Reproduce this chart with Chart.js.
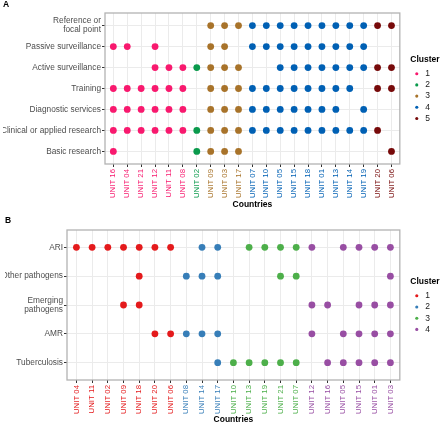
<!DOCTYPE html>
<html><head><meta charset="utf-8">
<script src="https://cdn.jsdelivr.net/npm/chart.js@4.4.1/dist/chart.umd.min.js"></script>
<style>
html,body{margin:0;padding:0;background:#fff;}
#wrap{position:relative;width:440px;height:424px;overflow:hidden;}
canvas{position:absolute;left:0;}
#cA{top:0}
#cB{top:212px}
</style></head><body>
<div id="wrap"><canvas id="cA" width="440" height="212"></canvas><canvas id="cB" width="440" height="212"></canvas></div>
<script>
// ---------- Panel A data ----------
const unitsA = ['UNIT 16','UNIT 04','UNIT 21','UNIT 12','UNIT 11','UNIT 08','UNIT 02','UNIT 09','UNIT 03','UNIT 17',
  'UNIT 07','UNIT 10','UNIT 05','UNIT 15','UNIT 18','UNIT 01','UNIT 13','UNIT 14','UNIT 19','UNIT 20','UNIT 06'];
const clustersA = [1,1,1,1,1,1,2,3,3,3,4,4,4,4,4,4,4,4,4,5,5];
const colorsA = ['#F8196E','#0A9A4C','#A8732A','#0060B4','#770A0A'];
const activitiesA = [['Reference or','focal point'],'Passive surveillance','Active surveillance','Training',
  'Diagnostic services','Clinical or applied research','Basic research'];
const referenceA  = [0,0,0,0,0,0,0, 1,1,1, 1,1,1,1,1,1,1,1,1, 1,1];
const passiveA    = [1,1,0,1,0,0,0, 1,1,0, 1,1,1,1,1,1,1,1,1, 0,0];
const activeA     = [0,0,0,1,1,1,1, 1,1,1, 0,0,1,1,1,1,1,1,1, 1,1];
const trainingA   = [1,1,1,1,1,1,0, 1,1,1, 1,1,1,1,1,1,1,1,0, 1,1];
const diagnosticA = [1,1,1,1,1,1,0, 1,1,1, 1,1,1,1,1,1,1,0,1, 0,0];
const clinicalA   = [1,1,1,1,1,1,1, 1,1,1, 1,1,1,1,1,1,1,1,1, 1,0];
const basicA      = [1,0,0,0,0,0,1, 1,1,1, 0,0,0,0,0,0,0,0,0, 0,1];
const rowsA = [referenceA, passiveA, activeA, trainingA, diagnosticA, clinicalA, basicA];

// ---------- Panel B data ----------
const unitsB = ['UNIT 04','UNIT 11','UNIT 02','UNIT 09','UNIT 18','UNIT 20','UNIT 06','UNIT 08','UNIT 14','UNIT 17',
  'UNIT 10','UNIT 13','UNIT 19','UNIT 21','UNIT 07','UNIT 12','UNIT 16','UNIT 05','UNIT 15','UNIT 01','UNIT 03'];
const clustersB = [1,1,1,1,1,1,1,2,2,2,3,3,3,3,3,4,4,4,4,4,4];
const colorsB = ['#E41A1C','#377EB8','#4DAF4A','#984EA3'];
const pathogensB = ['ARI','Other pathogens',['Emerging','pathogens'],'AMR','Tuberculosis'];
const ariB      = [1,1,1,1,1,1,1, 0,1,1, 0,1,1,1,1, 1,0,1,1,1,1];
const otherB    = [0,0,0,0,1,0,0, 1,1,1, 0,0,0,1,1, 0,0,0,0,0,1];
const emergingB = [0,0,0,1,1,0,0, 0,0,0, 0,0,0,0,0, 1,1,0,1,1,1];
const amrB      = [0,0,0,0,0,1,1, 1,1,1, 0,0,0,0,0, 1,0,1,1,1,1];
const tbB       = [0,0,0,0,0,0,0, 0,0,1, 1,1,1,1,1, 0,1,1,1,1,1];
const rowsB = [ariB, otherB, emergingB, amrB, tbB];

Chart.defaults.font.family = '"Liberation Sans", Arial, Helvetica, sans-serif';

function buildDatasets(rows, clusters, colors) {
  return colors.map((col, k) => {
    const pts = [];
    rows.forEach((row, r) => row.forEach((v, c) => {
      if (v && clusters[c] === k + 1) pts.push({x: c, y: r});
    }));
    return {label: String(k + 1), data: pts, backgroundColor: col, borderColor: col,
      borderWidth: 0, pointRadius: 3.4, pointHoverRadius: 3.4, pointStyle: 'circle'};
  });
}

const framePlugin = {
  id: 'frame',
  afterDraw(chart) {
    const a = chart.chartArea, ctx = chart.ctx;
    ctx.save();
    ctx.strokeStyle = '#B3B3B3';
    ctx.lineWidth = 1.3;
    ctx.strokeRect(a.left, a.top, a.right - a.left, a.bottom - a.top);
    ctx.restore();
  }
};

function makeChart(id, cfg) {
  const nX = cfg.units.length, nY = cfg.rowLabels.length;
  return new Chart(document.getElementById(id), {
    type: 'scatter',
    data: {datasets: buildDatasets(cfg.rows, cfg.clusters, cfg.colors)},
    plugins: [framePlugin],
    options: {
      responsive: false,
      animation: false,
      layout: {padding: {left: cfg.padLeft, right: 0, top: 0, bottom: 0}},
      plugins: {
        tooltip: {enabled: false},
        title: {display: true, text: cfg.letter, align: 'start', color: '#000',
          font: {size: 8.5, weight: 'bold'}, padding: cfg.letterPad},
        legend: {
          display: true, position: 'right', align: 'center', fullSize: false,
          title: {display: true, text: 'Cluster', color: '#000', position: 'center',
            font: {size: 8.5, weight: 'bold'}, padding: {top: 4, bottom: 1}},
          labels: {usePointStyle: true, boxWidth: 8.5, boxHeight: 2.2, padding: 2.7,
            color: '#1A1A1A', font: {size: 8.5}}
        }
      },
      scales: {
        x: {
          type: 'linear', position: 'bottom', min: -0.6, max: nX - 0.4,
          afterBuildTicks: s => { s.ticks = cfg.units.map((_, i) => ({value: i})); },
          afterFit: s => { s.height = cfg.xHeight; },
          grid: {color: '#EBEBEB', lineWidth: 1, tickLength: 3, tickColor: '#333333', drawTicks: true},
          border: {display: false},
          ticks: {autoSkip: false, maxRotation: 90, minRotation: 90, padding: 2,
            font: {size: 7.8},
            color: c => cfg.colors[cfg.clusters[c.index] - 1],
            callback: v => cfg.units[v]},
          title: {display: true, text: 'Countries', color: '#000',
            font: {size: 8.5, weight: 'bold', lineHeight: 1}, padding: {top: 0, bottom: cfg.xTitlePad}}
        },
        y: {
          type: 'linear', position: 'left', reverse: true, min: -0.6, max: nY - 0.4,
          afterBuildTicks: s => { s.ticks = cfg.rowLabels.map((_, i) => ({value: i})); },
          afterFit: s => { s.width = cfg.yWidth; },
          grid: {color: '#EBEBEB', lineWidth: 1, tickLength: 3, tickColor: '#333333', drawTicks: true},
          border: {display: false},
          ticks: {autoSkip: false, padding: 1, color: '#4D4D4D',
            font: {size: 8.3, lineHeight: 1.1},
            callback: v => cfg.rowLabels[v]}
        },
        gap: {
          type: 'linear', position: 'right', display: true,
          grid: {display: false, drawTicks: false}, border: {display: false},
          ticks: {display: false},
          afterFit: s => { s.width = 10; }
        }
      }
    }
  });
}

makeChart('cA', {units: unitsA, clusters: clustersA, colors: colorsA, rows: rowsA, rowLabels: activitiesA,
  letter: 'A', letterPad: {top: 0, bottom: 2.8}, padLeft: 3, yWidth: 102, xHeight: 48, xTitlePad: 3.4});
makeChart('cB', {units: unitsB, clusters: clustersB, colors: colorsB, rows: rowsB, rowLabels: pathogensB,
  letter: 'B', letterPad: {top: 3.4, bottom: 4.4}, padLeft: 5, yWidth: 62, xHeight: 44, xTitlePad: 0});
</script>
</body></html>
